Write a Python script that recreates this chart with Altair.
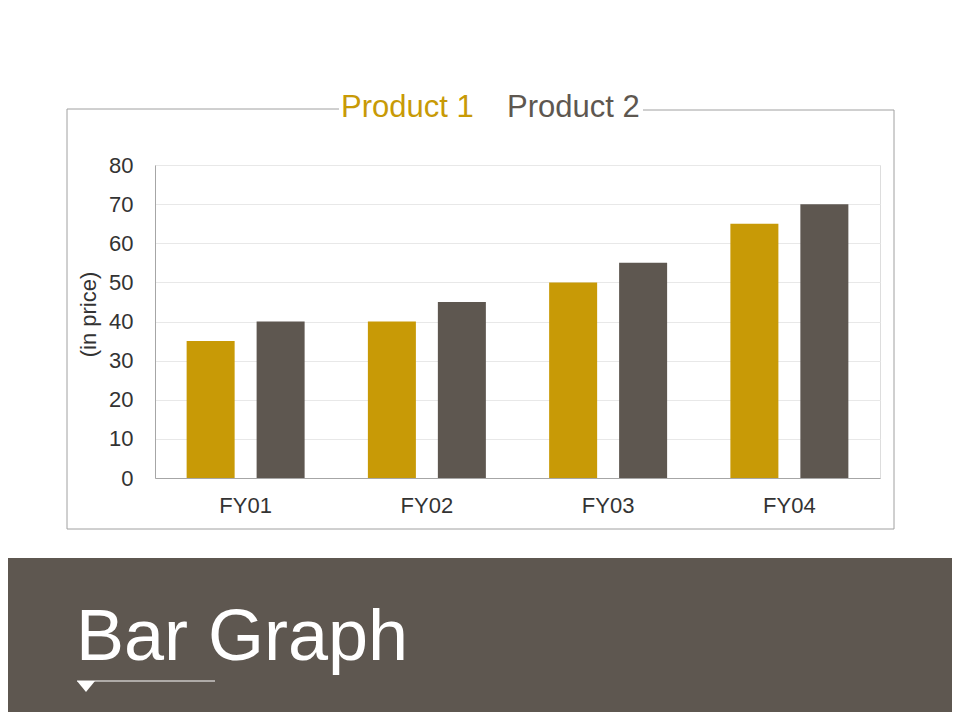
import altair as alt
import pandas as pd

years = ["FY01", "FY02", "FY03", "FY04"]
series = ["Product 1", "Product 2"]
product1 = [35, 40, 50, 65]
product2 = [40, 45, 55, 70]
colors = ["#C89A06", "#5E5750"]
title_text = "Bar Graph"
y_title = "(in price)"

rows = []
for i, yr in enumerate(years):
    rows.append({"year": yr, "series": series[0], "value": product1[i]})
    rows.append({"year": yr, "series": series[1], "value": product2[i]})
df = pd.DataFrame(rows)

W, H = 725, 313
PAD = {"left": 147, "top": 157, "right": 72, "bottom": 234}
FONT = "Liberation Sans"
one = alt.Data(values=[{}])

bars = alt.Chart(df).mark_bar().encode(
    x=alt.X("year:N", sort=years,
            scale=alt.Scale(paddingInner=0, paddingOuter=0),
            axis=alt.Axis(title=None, labelAngle=0, labelFontSize=22, labelColor="#333333",
                          labelFont=FONT, labelPadding=17, ticks=False,
                          domainColor="#A6A6A6", grid=False)),
    xOffset=alt.XOffset("series:N", sort=series,
                        scale=alt.Scale(paddingInner=0.314, paddingOuter=0.452)),
    y=alt.Y("value:Q", scale=alt.Scale(domain=[0, 80]),
            axis=alt.Axis(title=y_title, values=[0, 10, 20, 30, 40, 50, 60, 70, 80],
                          labelFontSize=22, labelColor="#333333", labelFont=FONT,
                          labelPadding=22, ticks=False, domainColor="#A6A6A6",
                          gridColor="#E8E8E8", titleFont=FONT, titleFontSize=22,
                          titleFontWeight="normal", titleColor="#333333",
                          titleX=-67, titleY=149, titleBaseline="middle", titleAngle=-90)),
    color=alt.Color("series:N", sort=series,
                    scale=alt.Scale(domain=series, range=colors), legend=None),
)

# frame around the chart
box_color = "#A0A0A0"
frame_left = alt.Chart(one).mark_rule(color=box_color, strokeWidth=1).encode(
    x=alt.value(-88), y=alt.value(-56), y2=alt.value(364))
frame_right = alt.Chart(one).mark_rule(color=box_color, strokeWidth=1).encode(
    x=alt.value(739), y=alt.value(-55), y2=alt.value(364))
frame_bottom = alt.Chart(one).mark_rule(color=box_color, strokeWidth=1).encode(
    x=alt.value(-88), x2=alt.value(739), y=alt.value(364))
frame_top1 = alt.Chart(one).mark_rule(color=box_color, strokeWidth=1).encode(
    x=alt.value(-88), x2=alt.value(184), y=alt.value(-56))
frame_top2 = alt.Chart(one).mark_rule(color=box_color, strokeWidth=1).encode(
    x=alt.value(488), x2=alt.value(739), y=alt.value(-55))

leg1 = alt.Chart(one).mark_text(text=series[0], font=FONT, fontSize=31, color=colors[0],
                                align="left", baseline="middle").encode(
    x=alt.value(186), y=alt.value(-57))
leg2 = alt.Chart(one).mark_text(text=series[1], font=FONT, fontSize=31, color=colors[1],
                                align="left", baseline="middle").encode(
    x=alt.value(352), y=alt.value(-57))

band = alt.Chart(one).mark_rect(color="#5E5750").encode(
    x=alt.value(-147), x2=alt.value(797), y=alt.value(393), y2=alt.value(547))
title = alt.Chart(one).mark_text(text=title_text, font=FONT, fontSize=72, color="#FFFFFF",
                                 align="left", baseline="alphabetic").encode(
    x=alt.value(-79), y=alt.value(495))
underline = alt.Chart(one).mark_rule(color="#FFFFFF", strokeWidth=1).encode(
    x=alt.value(-78), x2=alt.value(60), y=alt.value(516))
tri = alt.Chart(one).mark_point(shape="M-1,-0.6L1,-0.6L0,0.6Z", filled=True, color="#FFFFFF",
                                opacity=1, size=324, strokeWidth=0).encode(
    x=alt.value(-69), y=alt.value(521.5))

chart = alt.layer(
    band, title, underline, tri,
    frame_left, frame_right, frame_bottom, frame_top1, frame_top2,
    leg1, leg2, bars,
).properties(
    width=W, height=H, padding=PAD,
    autosize=alt.AutoSizeParams(type="none"),
).configure_view(stroke=None).configure(background="#FFFFFF")

chart.save("out.html", embed_options={"renderer": "svg", "actions": False})
